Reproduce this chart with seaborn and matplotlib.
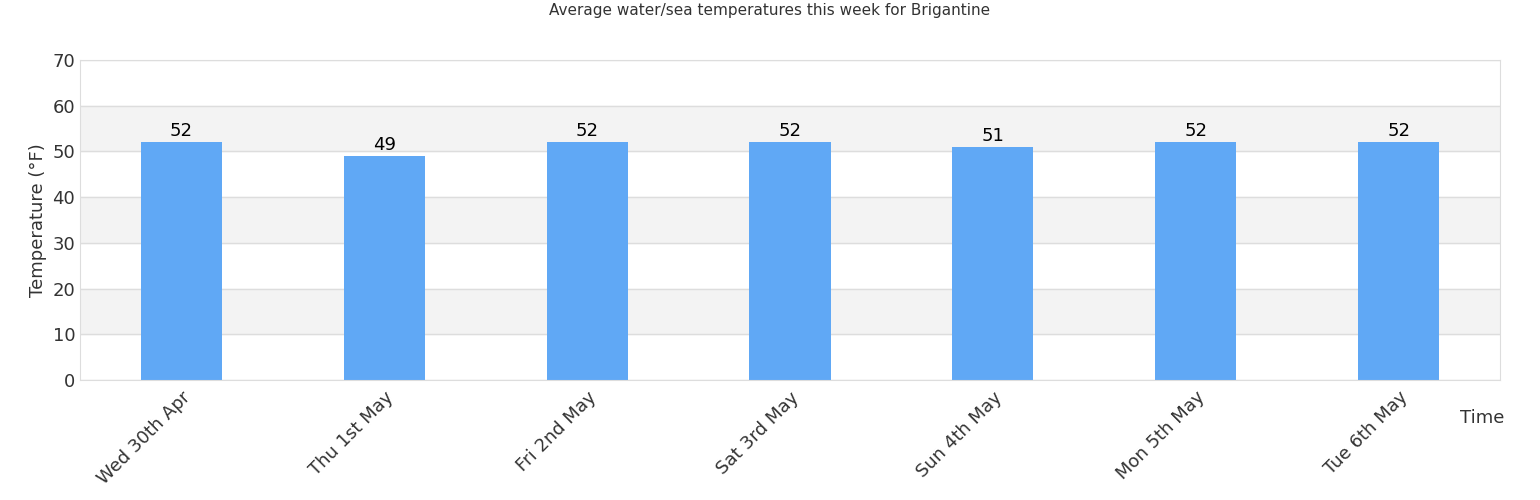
import matplotlib
matplotlib.use("Agg")
import matplotlib.pyplot as plt
import seaborn as sns
import pandas as pd

days = ["Wed 30th Apr", "Thu 1st May", "Fri 2nd May", "Sat 3rd May", "Sun 4th May", "Mon 5th May", "Tue 6th May"]
temps = [52, 49, 52, 52, 51, 52, 52]
yticks = [0, 10, 20, 30, 40, 50, 60, 70]

df = pd.DataFrame({"day": days, "temp": temps})
fig = plt.figure(figsize=(15.4, 5), dpi=100)
ax = fig.add_axes([80/1540, 1 - 380/500, 1420/1540, 320/500])
for lo in (10, 30, 50):
    ax.axhspan(lo, lo + 10, color="#f3f3f3", zorder=0)
for y in yticks:
    ax.axhline(y, color="#dddddd", lw=1, zorder=0.5)
sns.barplot(data=df, x="day", y="temp", color="#60a8f5", width=0.4, saturation=1, ax=ax, zorder=2)
for i, v in enumerate(temps):
    ax.text(i, v + 0.4, str(v), ha="center", va="bottom", fontsize=13, color="#000")
ax.set_ylim(0, 70)
ax.set_xlim(-0.5, len(days) - 0.5)
ax.set_yticks(yticks)
ax.tick_params(axis="y", labelsize=13, colors="#333", length=0)
ax.tick_params(axis="x", labelsize=13, colors="#333", length=0, pad=6)
plt.setp(ax.get_xticklabels(), rotation=45, ha="right", rotation_mode="anchor")
ax.set_xlabel("")
ax.set_ylabel("Temperature (°F)", fontsize=13, color="#333")
for s in ax.spines.values():
    s.set_color("#dddddd")
fig.text(1460/1540, 1 - 418/500, "Time", fontsize=13, color="#333", ha="left", va="center")
fig.text(0.5, 1 - 11/500, "Average water/sea temperatures this week for Brigantine", fontsize=11, color="#333", ha="center", va="center")
fig.savefig("out.png", dpi=100)
